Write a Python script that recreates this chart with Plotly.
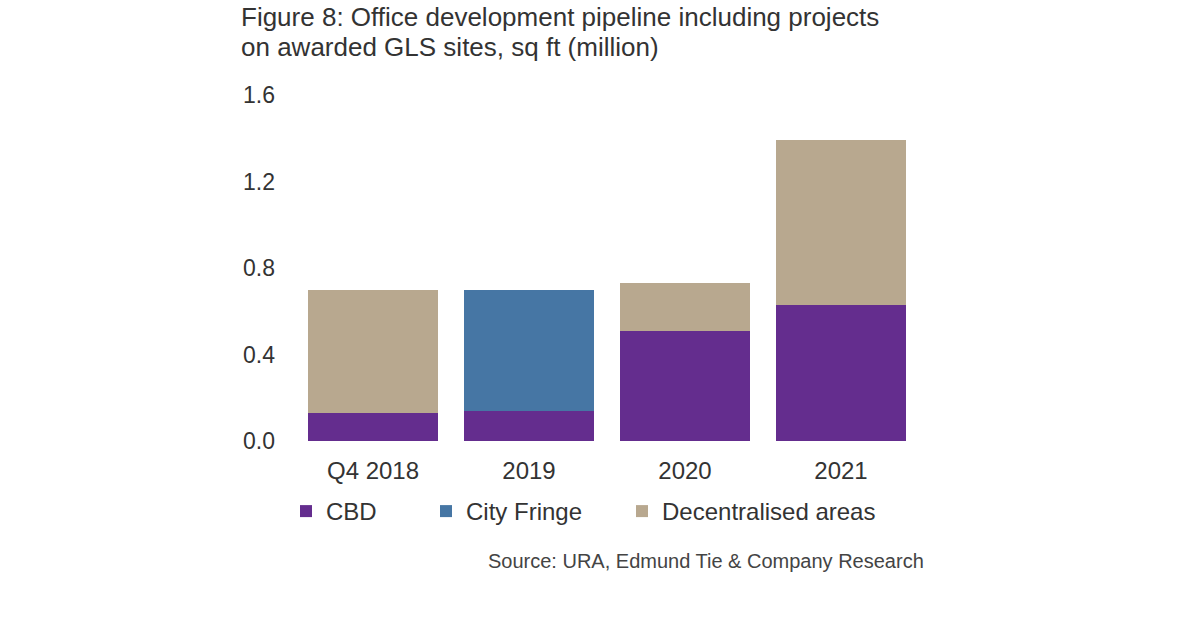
import plotly.graph_objects as go

categories = ["Q4 2018", "2019", "2020", "2021"]
cbd = [0.13, 0.14, 0.51, 0.63]
city_fringe = [0, 0.56, 0, 0]
decentralised = [0.57, 0, 0.22, 0.76]
y_ticks = [0.0, 0.4, 0.8, 1.2, 1.6]
y_tick_labels = ["0.0", "0.4", "0.8", "1.2", "1.6"]
title_lines = ["Figure 8: Office development pipeline including projects",
               "on awarded GLS sites, sq ft (million)"]
source_text = "Source: URA, Edmund Tie & Company Research"

colors = {"CBD": "#642D8E", "City Fringe": "#4676A4", "Decentralised areas": "#B8A88F"}
FONT = "Liberation Sans, Arial, Helvetica, sans-serif"

L, R, T, B = 295, 281, 95, 189
PW, PH = 1200 - L - R, 630 - T - B


def px_x(x):
    return (x - L) / PW


def px_y(y):
    return (630 - B - y) / PH


series = [("CBD", cbd, "legend", 286),
          ("City Fringe", city_fringe, "legend2", 426),
          ("Decentralised areas", decentralised, "legend3", 622)]

fig = go.Figure()
for name, vals, lg, _ in series:
    fig.add_trace(go.Bar(
        x=categories, y=vals, name=name, legend=lg,
        marker=dict(color=colors[name], line=dict(width=0)),
    ))

legend_common = dict(
    orientation="h", xanchor="left", yanchor="top", y=px_y(489),
    font=dict(size=24, color="#333333"), itemwidth=30,
    bgcolor="rgba(0,0,0,0)",
)

fig.update_layout(
    barmode="stack",
    bargap=0.17,
    width=1200, height=630,
    paper_bgcolor="white", plot_bgcolor="white",
    margin=dict(l=L, r=R, t=T, b=B, autoexpand=False),
    font=dict(family=FONT, color="#333333"),
    xaxis=dict(
        showline=False, showgrid=False, zeroline=False, ticks="",
        tickfont=dict(size=24, color="#333333"),
        ticklabelstandoff=13,
    ),
    yaxis=dict(
        range=[0, 1.6], tickvals=y_ticks, ticktext=y_tick_labels,
        showline=False, showgrid=False, zeroline=False, ticks="",
        tickfont=dict(size=23, color="#333333"),
        ticklabelstandoff=19,
    ),
    legend=dict(legend_common, x=px_x(series[0][3])),
    legend2=dict(legend_common, x=px_x(series[1][3])),
    legend3=dict(legend_common, x=px_x(series[2][3])),
    showlegend=True,
)

for i, (line, yc) in enumerate(zip(title_lines, [17, 47])):
    fig.add_annotation(
        text=line, xref="paper", yref="paper",
        x=px_x(239), xanchor="left", y=px_y(yc), yanchor="middle",
        showarrow=False, font=dict(size=26, color="#333333", family=FONT),
    )

fig.add_annotation(
    text=source_text,
    xref="paper", yref="paper",
    x=px_x(926), xanchor="right",
    y=px_y(561), yanchor="middle",
    showarrow=False, font=dict(size=20, color="#444444", family=FONT),
)

fig.write_html("out.html")
